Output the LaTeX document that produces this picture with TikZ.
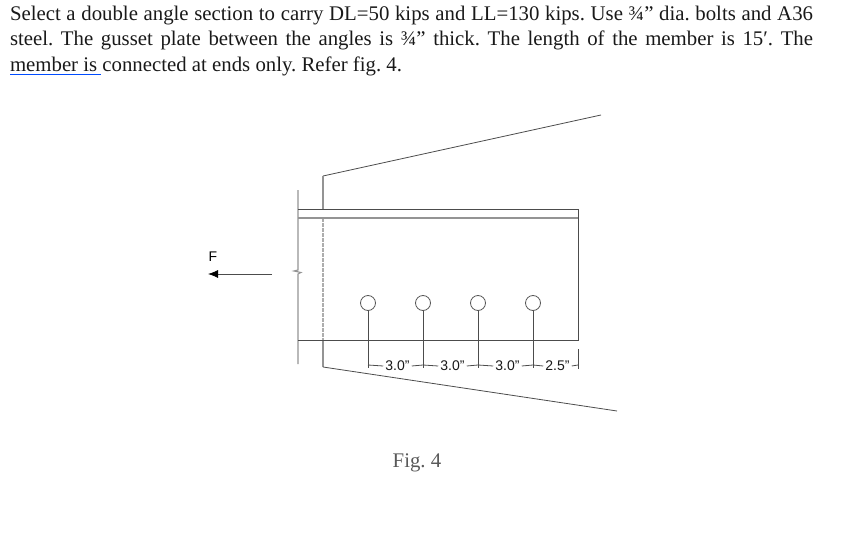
\documentclass[tikz,border=0pt]{standalone}
\usepackage{fontspec}
\setmainfont{Liberation Serif}
\setsansfont{Liberation Sans}
\usetikzlibrary{arrows.meta}
\frenchspacing
\tikzset{
    member/.style={draw=black!42,line width=1.1pt},
    thinline/.style={draw=black!70,line width=0.8pt},
    hidden/.style={draw=black!32,line width=1.1pt,dash pattern=on 3.5pt off 1.5pt},
    statement/.style={anchor=base west,inner sep=0pt,outer sep=0pt,font=\fontsize{20.8}{24}\selectfont,text=black!90},
    dimlabel/.style={inner sep=0pt,font=\sffamily\fontsize{14}{16}\selectfont,text=black!90},
    bolt/.style={circle,draw=black!65,line width=0.8pt,minimum size=15pt,inner sep=0pt,fill=white}
}
\begin{document}
\begin{tikzpicture}[x=1pt,y=-1pt]
    \useasboundingbox (0,0) rectangle (847,543);

    % problem statement
    \node[statement] (lineone) at (10,20.5) {\makebox[803pt][s]{Select a double angle section to carry DL=50 kips and LL=130 kips. Use ¾” dia. bolts and A36}};
    \node[statement] (linetwo) at (10,45.5) {\makebox[803pt][s]{steel. The gusset plate between the angles is ¾” thick. The length of the member is 15′. The}};
    \node[statement] (linethree) at (10,71.5) {member is connected at ends only. Refer fig. 4.};
    \draw[blue!70!cyan,line width=1pt] (10,75)--(101,75);

    % gusset plate
    \draw[thinline] (601,115)--(323,176);
    \draw[member] (323,176)--(323,209);
    \draw[hidden] (323,218)--(323,340);
    \draw[member] (323,340)--(323,367);
    \draw[thinline] (323,367)--(617,411);

    % angles
    \draw[member] (298,190)--(298,270)--(294,271)--(301,272.5)--(298,274)--(298,364);
    \draw[thinline] (298,209)--(578,209)--(578,340)--(298,340);
    \draw[member] (298,218)--(578,218);

    % load
    \draw[thinline,-{Latex[length=10pt,width=8pt,black]}] (272,274)--(208,274);
    \node[inner sep=0pt,font=\sffamily\fontsize{14}{16}\selectfont] (load) at (213,257) {F};

    % bolts and their leaders
    \foreach \x/\name in {368/a, 423/b, 478/c, 533/d}{
        \node[bolt] (bolt\name) at (\x,303) {};
        \draw[thinline] (bolt\name.south)--(\x,368);
    }
    \coordinate (edge) at (578,349);
    \draw[thinline] (edge)--(578,369);

    % dimensions
    \foreach \x/\next/\name/\label in {368/423/a/3.0", 423/478/b/3.0", 478/533/c/3.0", 533/578/d/2.5"}{
        \node[dimlabel,fill=white,inner xsep=2pt] (dim\name) at ({(\x+\next)/2+2},366) {\label};
        \draw[thinline] (\x,365)--(dim\name.west);
        \draw[thinline] (dim\name.east)--(\next,365);
    }

    \node[inner sep=0pt,text=black!65,font=\fontsize{20.8}{24}\selectfont] (figname) at (417,462.5) {Fig. 4};
\end{tikzpicture}
\end{document}
